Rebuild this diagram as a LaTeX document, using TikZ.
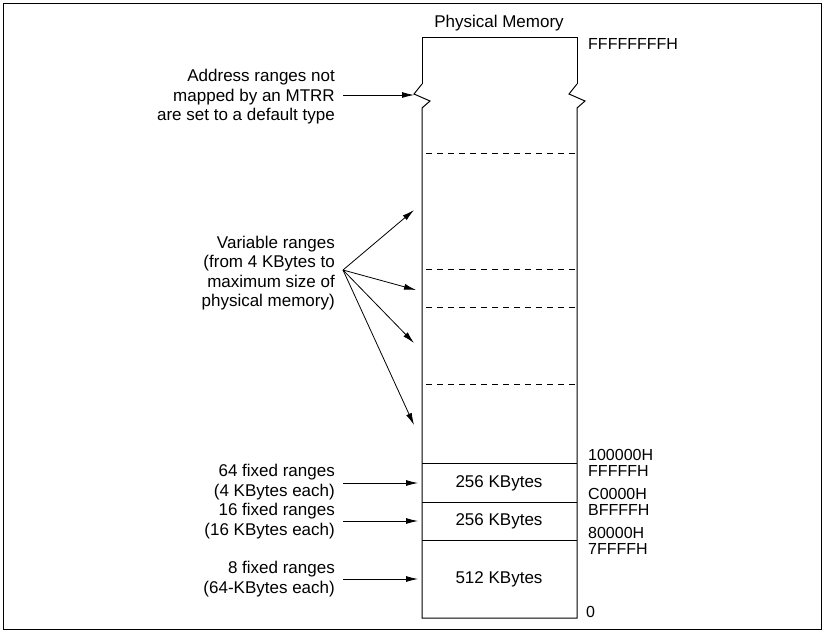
\documentclass[tikz,border=0pt]{standalone}
\usepackage{fontspec}
\setmainfont{Liberation Sans}
\usetikzlibrary{arrows.meta}
\begin{document}
\begin{tikzpicture}[x=1pt,y=-1pt,font=\fontsize{17}{19.5}\selectfont,
  lab/.style={align=right,anchor=east,inner sep=0pt},
  addr/.style={anchor=west,inner sep=0pt,font=\fontsize{16}{19}\selectfont},
  arr/.style={-{Latex[length=12pt,width=6pt]},line width=0.8pt},
  mem/.style={line width=1pt}]
\useasboundingbox (0,0) rectangle (827,632);
\draw[line width=1pt] (3,3) rectangle (821,629);
% memory box
\draw[mem] (422,84) -- (422,37) -- (577,37) -- (577,84);
\draw[mem] (422,84) -- (414,94) -- (430,101) -- (422,108) -- (422,618) -- (577,618) -- (577,108) -- (585,101) -- (569,94) -- (577,84);
\coordinate (brk) at (414,95);
\foreach \y in {153,269,307,384}{\draw[line width=0.8pt,dash pattern=on 6pt off 5pt] (426,\y) -- (577,\y);}
\foreach \y in {463,502,540}{\draw[mem] (422,\y) -- (577,\y);}
\node[inner sep=0pt] (title) at (499,23) {Physical Memory};
\node (b1) at (499,483) {256 KBytes};
\node (b2) at (499,521) {256 KBytes};
\node (b3) at (499,579) {512 KBytes};
% addresses
\node[addr] (a0) at (588,44) {FFFFFFFFH};
\node[addr] (a1) at (588,455) {100000H};
\node[addr] (a2) at (588,471) {FFFFFH};
\node[addr] (a3) at (588,494) {C0000H};
\node[addr] (a4) at (588,510) {BFFFFH};
\node[addr] (a5) at (588,533) {80000H};
\node[addr] (a6) at (588,549) {7FFFFH};
\node[addr] (a7) at (586,612) {0};
% left labels
\node[lab] (t1) at (335,97) {Address ranges not\\mapped by an MTRR\\are set to a default type};
\node[lab] (t2) at (335,273) {Variable ranges\\(from 4 KBytes to\\maximum size of\\physical memory)};
\node[lab] (t3) at (335,482) {64 fixed ranges\\(4 KBytes each)};
\node[lab] (t4) at (335,521) {16 fixed ranges\\(16 KBytes each)};
\node[lab] (t5) at (335,579) {8 fixed ranges\\(64-KBytes each)};
\coordinate (s2) at (343,270);
\coordinate (v1) at (414,210);
\coordinate (v2) at (416,290);
\coordinate (v3) at (414,343);
\coordinate (v4) at (414,425);
\draw[arr] (343,95) -- (brk);
\foreach \v in {v1,v2,v3,v4}{\draw[arr] (s2) -- (\v);}
\draw[arr] (343,483) -- (b1.west -| 418,0);
\draw[arr] (343,521) -- (b2.west -| 418,0);
\draw[arr] (343,579) -- (b3.west -| 418,0);
\end{tikzpicture}
\end{document}
